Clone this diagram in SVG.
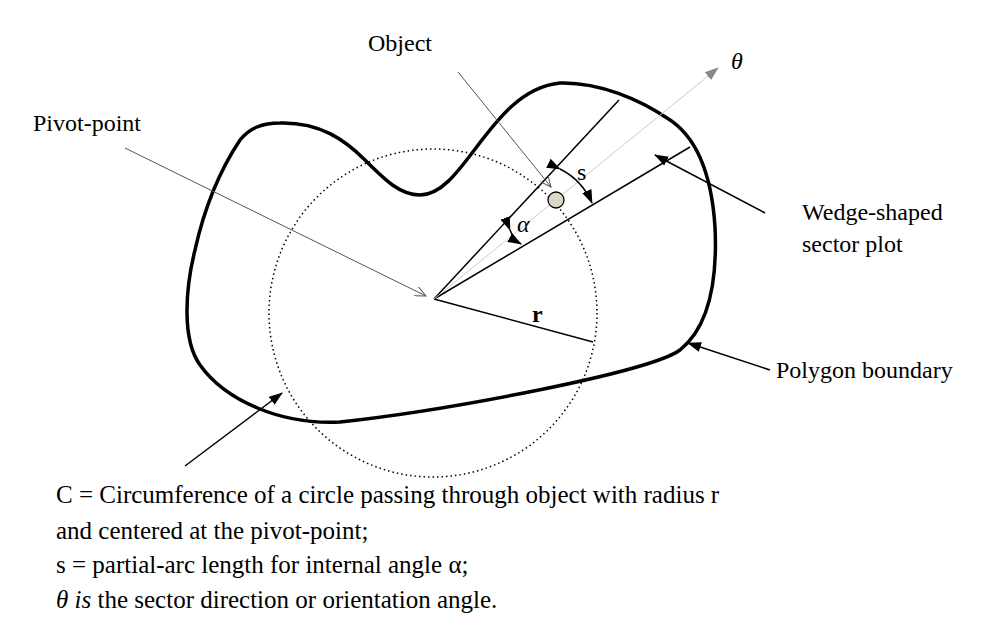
<svg xmlns="http://www.w3.org/2000/svg" width="1000" height="632" viewBox="0 0 1000 632">
<style>
text{font-family:"Liberation Serif",serif;font-size:24px;fill:#000}
.big{font-size:25px}
.thin{stroke:#555;stroke-width:1;fill:none}
.ln{stroke:#000;stroke-width:1.5;fill:none}
</style>
<defs>
<marker id="open" markerWidth="12" markerHeight="10" refX="11" refY="5" orient="auto" markerUnits="userSpaceOnUse"><path d="M0,0 L11,5 L0,10" fill="none" stroke="#555"/></marker>
<marker id="fill" markerWidth="14" markerHeight="10" refX="13" refY="5" orient="auto" markerUnits="userSpaceOnUse"><path d="M0,0 L14,5 L0,10z" fill="#000"/></marker>
<marker id="gray" markerWidth="14" markerHeight="10" refX="13" refY="5" orient="auto" markerUnits="userSpaceOnUse"><path d="M0,0 L14,5 L0,10z" fill="#888"/></marker>
</defs>
<rect width="1000" height="632" fill="#fff"/>
<g id="circle"><circle cx="433" cy="313" r="164" fill="none" stroke="#000" stroke-width="1.5" stroke-dasharray="1.5,3"/></g>
<g id="polygon"><path d="M280,123 C320,122 345,140 365,160 C385,180 400,195 420,195 C465,195 490,90 560,83 C600,82 640,100 667,118 C700,138 712,180 715,227 C718,290 705,330 680,350 C650,372 450,410 340,422 C280,425 225,400 200,365 C182,340 185,290 195,250 C205,205 220,170 240,140 C250,128 262,123 280,123 Z" fill="none" stroke="#000" stroke-width="3.5"/></g>
<g id="wedge">
<line x1="434" y1="299" x2="619" y2="100" class="ln"/>
<line x1="434" y1="299" x2="690" y2="147" class="ln"/>
<line x1="434" y1="299" x2="593" y2="342" class="ln"/>
<line x1="434" y1="299" x2="718" y2="68" stroke="#ccc" stroke-width="1" marker-end="url(#gray)"/>
<circle cx="556" cy="200" r="8" fill="#dcd8c6" stroke="#000" stroke-width="1.3"/>
</g>
<g id="connectors">
<path d="M510,230 Q514,240 521,244" class="ln" marker-start="url(#fill)" marker-end="url(#fill)"/>
<path d="M560,169 Q582,180 592,203" class="ln" marker-start="url(#fill)" marker-end="url(#fill)"/>
<line x1="125" y1="148" x2="426" y2="296" class="thin" marker-end="url(#open)"/>
<line x1="458" y1="72" x2="551" y2="187" class="thin" marker-end="url(#open)"/>
<line x1="765" y1="213" x2="655" y2="155" class="ln" marker-end="url(#fill)"/>
<line x1="770" y1="370" x2="688" y2="343" class="ln" marker-end="url(#fill)"/>
<line x1="185" y1="466" x2="282" y2="393" class="ln" marker-end="url(#fill)"/>
</g>
<g id="labels">
<text x="368" y="51">Object</text>
<text x="33" y="131">Pivot-point</text>
<text x="731" y="69" font-style="italic">θ</text>
<text x="577" y="180">s</text>
<text x="517" y="232" font-style="italic" fill="#1a3a6a">α</text>
<text x="532" y="322" font-size="16" font-weight="bold">r</text>
<text x="802" y="220">Wedge-shaped</text>
<text x="802" y="252">sector plot</text>
<text x="776" y="378">Polygon boundary</text>
<text class="big" x="56" y="503">C = Circumference of a circle passing through object with radius r</text>
<text class="big" x="56" y="539">and centered at the pivot-point;</text>
<text class="big" x="56" y="573"> s = partial-arc length for internal angle α;</text>
<text class="big" x="56" y="608"><tspan font-style="italic">θ is</tspan> the sector direction or orientation angle.</text>
</g>
</svg>
